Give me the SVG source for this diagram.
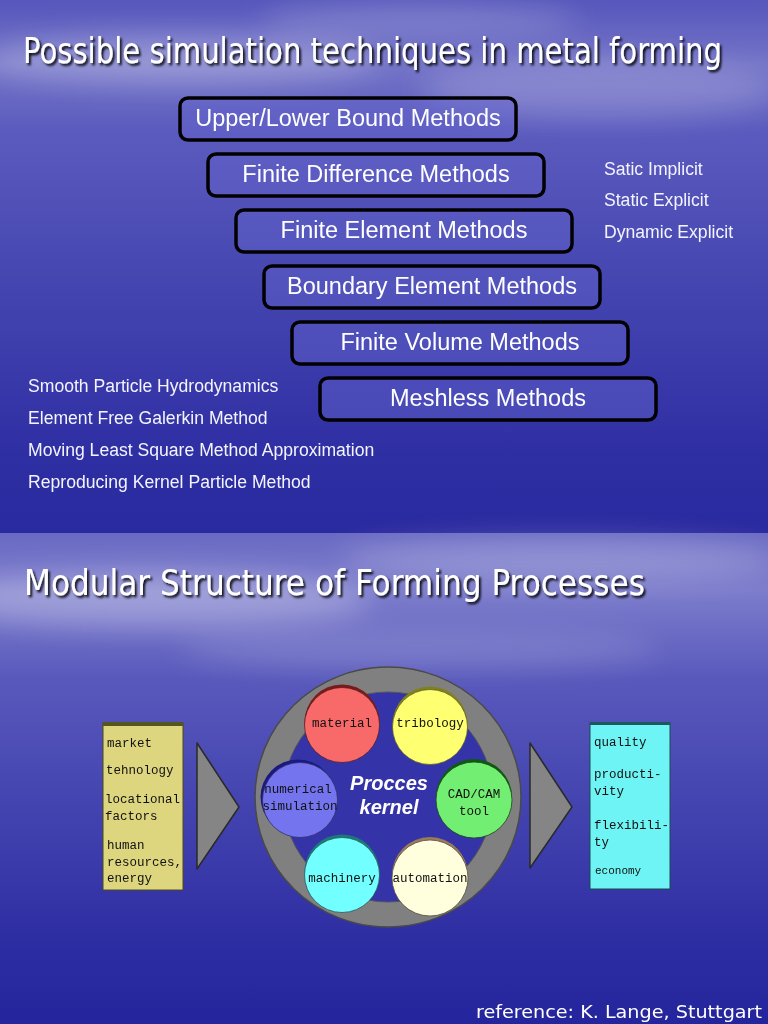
<svg xmlns="http://www.w3.org/2000/svg" width="768" height="1024" viewBox="0 0 768 1024">
<defs>
  <linearGradient id="bg1" x1="0" y1="0" x2="0" y2="1">
    <stop offset="0" stop-color="#5656bc"/>
    <stop offset="0.12" stop-color="#7474c8"/>
    <stop offset="0.25" stop-color="#5a5abe"/>
    <stop offset="0.55" stop-color="#4444b0"/>
    <stop offset="0.85" stop-color="#2f2fa4"/>
    <stop offset="1" stop-color="#2a2aa0"/>
  </linearGradient>
  <linearGradient id="bg2" x1="0" y1="0" x2="0" y2="1">
    <stop offset="0" stop-color="#6a6ac4"/>
    <stop offset="0.12" stop-color="#7c7ccc"/>
    <stop offset="0.3" stop-color="#5858bc"/>
    <stop offset="0.6" stop-color="#4040ae"/>
    <stop offset="0.85" stop-color="#2c2ca2"/>
    <stop offset="1" stop-color="#24249c"/>
  </linearGradient>
  <filter id="blur" x="-50%" y="-50%" width="200%" height="200%"><feGaussianBlur stdDeviation="14"/></filter>
  <filter id="shadow" x="-10%" y="-60%" width="120%" height="220%"><feDropShadow dx="2" dy="2" stdDeviation="0.8" flood-color="#000" flood-opacity="0.9"/></filter>
  <style>
    .title{font-family:"DejaVu Sans Condensed","DejaVu Sans",sans-serif;font-size:31px;fill:#fff;filter:url(#shadow)}
    .box rect{fill:#6464cc;fill-opacity:0.45;stroke:#000;stroke-width:3.5}
    .box text{font-family:"Liberation Sans",Arial,sans-serif;font-size:23.5px;fill:#fff;text-anchor:middle}
    .lbl{font-family:"Liberation Sans",Arial,sans-serif;font-size:17.6px;fill:#f4f4ff}
    .mono{font-family:"Liberation Mono","Courier New",monospace;font-size:12.5px;fill:#111}
    .mc{text-anchor:middle}
    .tri{fill:#858585;stroke:#2a2a2a;stroke-width:1.5;stroke-linejoin:round}
    .kern{font-family:"Liberation Sans",Arial,sans-serif;font-size:20px;font-weight:bold;font-style:italic;fill:#fff;text-anchor:middle}
    .ref{font-family:"DejaVu Sans Condensed","DejaVu Sans",sans-serif;font-size:17.5px;fill:#fff}
  </style>
</defs>

<!-- backgrounds -->
<rect x="0" y="0" width="768" height="533" fill="url(#bg1)"/>
<rect x="0" y="533" width="768" height="491" fill="url(#bg2)"/>
<g filter="url(#blur)" fill="#fff">
  <ellipse cx="180" cy="60" rx="200" ry="25" opacity="0.25"/>
  <ellipse cx="600" cy="90" rx="180" ry="30" opacity="0.18"/>
  <ellipse cx="420" cy="20" rx="160" ry="16" opacity="0.2"/>
  <ellipse cx="150" cy="600" rx="220" ry="28" opacity="0.28"/>
  <ellipse cx="560" cy="560" rx="220" ry="22" opacity="0.22"/>
  <ellipse cx="420" cy="650" rx="240" ry="20" opacity="0.15"/>
</g>

<!-- slide 1 -->
<text class="title" transform="translate(23,63) scale(1,1.15)" x="0" y="0" textLength="699" lengthAdjust="spacingAndGlyphs">Possible simulation techniques in metal forming</text>

<g id="n-upper" class="box"><rect x="180" y="98" width="336" height="42" rx="8"/><text x="348" y="126">Upper/Lower Bound Methods</text></g>
<g id="n-fdm" class="box"><rect x="208" y="154" width="336" height="42" rx="8"/><text x="376" y="182">Finite Difference Methods</text></g>
<g id="n-fem" class="box"><rect x="236" y="210" width="336" height="42" rx="8"/><text x="404" y="238">Finite Element Methods</text></g>
<g id="n-bem" class="box"><rect x="264" y="266" width="336" height="42" rx="8"/><text x="432" y="294">Boundary Element Methods</text></g>
<g id="n-fvm" class="box"><rect x="292" y="322" width="336" height="42" rx="8"/><text x="460" y="350">Finite Volume Methods</text></g>
<g id="n-mesh" class="box"><rect x="320" y="378" width="336" height="42" rx="8"/><text x="488" y="406">Meshless Methods</text></g>

<g id="fem-variants">
  <text class="lbl" x="604" y="175">Satic Implicit</text>
  <text class="lbl" x="604" y="206">Static Explicit</text>
  <text class="lbl" x="604" y="238">Dynamic Explicit</text>
</g>
<g id="meshless-variants">
  <text class="lbl" x="28" y="392">Smooth Particle Hydrodynamics</text>
  <text class="lbl" x="28" y="424">Element Free Galerkin Method</text>
  <text class="lbl" x="28" y="456">Moving Least Square Method Approximation</text>
  <text class="lbl" x="28" y="488">Reproducing Kernel Particle Method</text>
</g>

<!-- slide 2 -->
<text class="title" transform="translate(24,595) scale(1,1.15)" x="0" y="0" textLength="621" lengthAdjust="spacingAndGlyphs">Modular Structure of Forming Processes</text>

<g id="n-inputs">
  <rect x="103" y="723" width="80" height="167" fill="#ddd67e" stroke="#4a4a1a" stroke-width="1"/>
  <rect x="103" y="722" width="80" height="4" fill="#55551c"/>
  <text class="mono" x="107" y="747">market</text>
  <text class="mono" x="106" y="774">tehnology</text>
  <text class="mono" x="105" y="803">locational</text>
  <text class="mono" x="105" y="820">factors</text>
  <text class="mono" x="107" y="849">human</text>
  <text class="mono" x="107" y="866">resources,</text>
  <text class="mono" x="107" y="882">energy</text>
</g>

<g id="connectors">
  <polygon class="tri" points="197,743 239,807 197,869"/>
  <polygon class="tri" points="530,743 572,807 530,868"/>
</g>

<g id="n-kernel">
  <ellipse cx="388" cy="797" rx="133" ry="130" fill="#808080" stroke="#4a4a4a" stroke-width="1.5"/>
  <circle cx="388" cy="797" r="105" fill="#3434a8" stroke="#555" stroke-width="1"/>
  <text class="kern" x="389" y="790">Procces</text>
  <text class="kern" x="389" y="814">kernel</text>
</g>

<g id="n-material">
  <circle cx="342" cy="722" r="37.5" fill="#7a1a1a"/>
  <circle cx="342" cy="725" r="37.5" fill="#f86a6a" stroke="#5a2020" stroke-width="0.8"/>
  <text class="mono mc" x="342" y="727">material</text>
</g>
<g id="n-tribology">
  <circle cx="430" cy="724" r="37.5" fill="#80801c"/>
  <circle cx="430" cy="727" r="37.5" fill="#ffff72" stroke="#60602a" stroke-width="0.8"/>
  <text class="mono mc" x="430" y="727">tribology</text>
</g>
<g id="n-numerical">
  <circle cx="298" cy="797" r="37.5" fill="#1a1a80"/>
  <circle cx="300" cy="800" r="37.5" fill="#7474ee" stroke="#30306a" stroke-width="0.8"/>
  <text class="mono mc" x="298" y="793">numerical</text>
  <text class="mono mc" x="300" y="810">simulation</text>
</g>
<g id="n-cadcam">
  <circle cx="474" cy="797" r="38" fill="#0f5a0f"/>
  <circle cx="474" cy="800" r="38" fill="#72ee72" stroke="#1c4a1c" stroke-width="0.8"/>
  <text class="mono mc" x="474" y="798">CAD/CAM</text>
  <text class="mono mc" x="474" y="815">tool</text>
</g>
<g id="n-machinery">
  <circle cx="342" cy="872" r="37.5" fill="#1a7a7a"/>
  <circle cx="342" cy="875" r="37.5" fill="#72ffff" stroke="#2a5a5a" stroke-width="0.8"/>
  <text class="mono mc" x="342" y="882">machinery</text>
</g>
<g id="n-automation">
  <circle cx="430" cy="875" r="38" fill="#9a7a5a"/>
  <circle cx="430" cy="878" r="38" fill="#ffffde" stroke="#5a5040" stroke-width="0.8"/>
  <text class="mono mc" x="430" y="882">automation</text>
</g>

<g id="n-outputs">
  <rect x="590" y="723" width="80" height="166" fill="#6ef4f4" stroke="#1a4a4a" stroke-width="1"/>
  <rect x="590" y="722" width="80" height="3" fill="#1c5a5a"/>
  <text class="mono" x="594" y="746">quality</text>
  <text class="mono" x="594" y="778">producti-</text>
  <text class="mono" x="594" y="795">vity</text>
  <text class="mono" x="594" y="829">flexibili-</text>
  <text class="mono" x="594" y="846">ty</text>
  <text class="mono" x="595" y="874" style="font-size:11px">economy</text>
</g>

<text class="ref" x="476" y="1018" textLength="286" lengthAdjust="spacingAndGlyphs">reference: K. Lange, Stuttgart</text>
</svg>
